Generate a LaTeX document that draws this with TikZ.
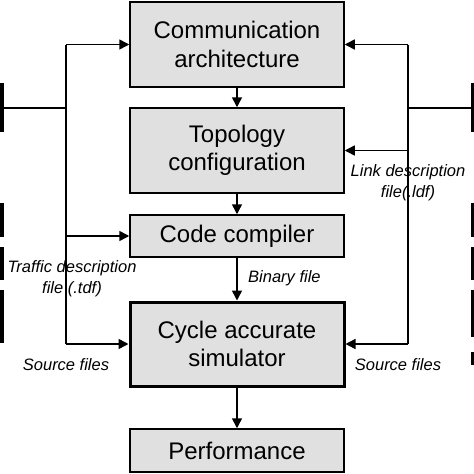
\documentclass[tikz,border=0pt]{standalone}
\usepackage{fontspec}
\setmainfont{Liberation Sans}
\usetikzlibrary{arrows.meta}
\definecolor{boxfill}{RGB}{224,224,224}
\tikzset{
  box/.style={draw=black, line width=1.5pt, fill=boxfill, minimum width=214pt, inner sep=0pt,
    align=center, font=\fontsize{24}{28.5}\selectfont},
  bigbox/.style={box, line width=3pt},
  conn/.style={line width=1.5pt},
  arr/.style={conn, -{Triangle[length=10pt,width=10pt]}},
  lbl/.style={font=\fontsize{16.5}{21}\selectfont\itshape, align=center, inner sep=0pt},
  bar/.style={fill=black, draw=none}
}
\begin{document}
\begin{tikzpicture}[x=1pt,y=-1pt]
\useasboundingbox (0,0) rectangle (474,474);
\node[box, minimum height=85pt] (comm) at (237,44.5) {Communication\\architecture};
\node[box, minimum height=85pt] (topo) at (237,150.5) {Topology\\configuration};
\node[box, minimum height=42pt] (code) at (237,236) {Code compiler};
\node[bigbox, minimum height=84pt] (cyc) at (237,344) {Cycle accurate\\simulator};
\node[box, minimum height=43pt] (perf) at (237,450.5) {Performance};

\draw[arr] (comm) -- (topo);
\draw[arr] (topo) -- (code);
\draw[arr] (code) -- (cyc);
\draw[arr] (cyc) -- (perf);

% left bus
\coordinate (LT) at (66,44.5);
\coordinate (LB) at (66,344);
\coordinate (LJ) at (66,108);
\coordinate (LE) at (0,108);
\draw[conn] (LT) -- (LB);
\draw[conn] (LE) -- (LJ);
\draw[arr] (LT) -- (comm.west);
\draw[arr] (LT |- code.west) -- (code.west);
\draw[arr] (LB) -- (cyc.west);

% right bus
\coordinate (RT) at (408,44.5);
\coordinate (RB) at (408,344);
\coordinate (RJ) at (408,108);
\coordinate (RE) at (474,108);
\draw[conn] (RT) -- (RB);
\draw[conn] (RE) -- (RJ);
\draw[arr] (RT) -- (comm.east);
\draw[arr] (RT |- topo.east) -- (topo.east);
\draw[arr] (RB) -- (cyc.east);

% labels
\node[lbl] (tdf) at (72,279) {Traffic description\\file (.tdf)};
\node[lbl] (ldf) at (408,183) {Link description\\file(.ldf)};
\node[lbl, anchor=west] (bin) at (248,278) {Binary file};
\node[lbl] (srcl) at (66,365) {Source files};
\node[lbl] (srcr) at (398,365) {Source files};

% edge bars
\fill[bar] (0,83) rectangle (3.5,132);
\fill[bar] (0,203) rectangle (3.5,237);
\fill[bar] (0,247) rectangle (3.5,280);
\fill[bar] (0,290) rectangle (3.5,343);
\fill[bar] (470.5,83) rectangle (474,132);
\fill[bar] (470.5,203) rectangle (474,237);
\fill[bar] (470.5,247) rectangle (474,280);
\fill[bar] (470.5,290) rectangle (474,337);
\fill[bar] (470.5,352) rectangle (474,365);
\end{tikzpicture}
\end{document}
